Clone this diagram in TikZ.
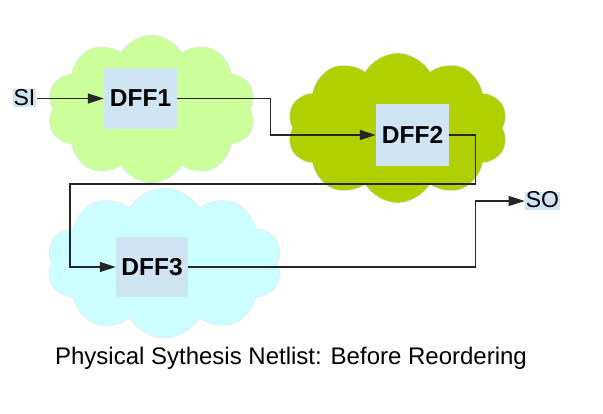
\documentclass[tikz,border=0pt]{standalone}
\usepackage{fontspec}
\setmainfont{Liberation Sans}
\usetikzlibrary{shapes.symbols,arrows.meta}
\definecolor{paleGreen}{HTML}{CCFF99}
\definecolor{oliveGreen}{HTML}{B0D000}
\definecolor{paleCyan}{HTML}{CCFFFF}
\definecolor{cellBlue}{HTML}{CFE5F4}
\definecolor{puffLine}{HTML}{E4E4FA}
\begin{document}
\begin{tikzpicture}[x=1pt,y=-1pt,
  region/.style={cloud,cloud puffs=10,cloud puff arc=120,cloud ignores aspect,draw=puffLine,line width=0.6pt,inner sep=0pt},
  cell/.style={fill=cellBlue,minimum width=73pt,minimum height=61pt,inner sep=0pt,font=\fontsize{24.5}{28}\selectfont\bfseries},
  port/.style={fill=cellBlue,inner xsep=1pt,inner ysep=0pt,text height=16pt,text depth=2pt,font=\fontsize{23}{26}\selectfont},
  wire/.style={draw=black!85,line width=1.1pt},
  sig/.style={wire,-{Triangle[length=16pt,width=10pt]}}]
\useasboundingbox (0,0) rectangle (603,414);
\node[region,fill=paleGreen,minimum width=209pt,minimum height=148pt] (zone1) at (151.5,109) {};
\node[region,fill=oliveGreen,minimum width=221pt,minimum height=150pt] (zone2) at (397.5,128) {};
\node[region,fill=paleCyan,minimum width=235pt,minimum height=150pt] (zone3) at (164.5,263) {};
\node[cell] (dff1) at (140.5,98.5) {DFF1};
\node[cell,minimum height=62pt] (dff2) at (412.5,135) {DFF2};
\node[cell,minimum width=72pt,minimum height=60pt] (dff3) at (152,267) {DFF3};
\node[port] (si) at (24.5,98.5) {SI};
\node[port] (so) at (542.5,201) {SO};
\draw[sig] (si.east) -- (dff1.west);
\draw[sig] (dff1.east) -- ++(93,0) |- (dff2.west);
\draw[sig] (dff2.east) -- ++(26,0) |- (70,184) |- (dff3.west);
\draw[sig] (dff3.east) -- ++(287,0) |- (so.west);
\node[anchor=base,font=\fontsize{24}{28}\selectfont] (caption) at (291,365) {Physical Sythesis Netlist: Before Reordering};
\end{tikzpicture}
\end{document}
